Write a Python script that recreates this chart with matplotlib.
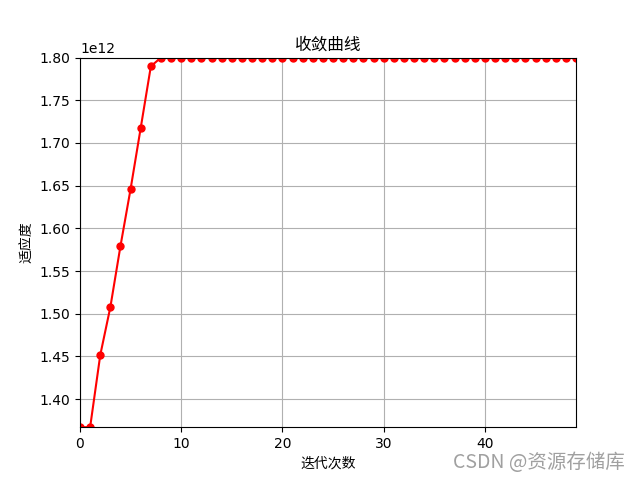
import matplotlib
matplotlib.use("Agg")
import matplotlib.pyplot as plt

plt.rcParams['font.family'] = ['DejaVu Sans', 'Noto Sans CJK SC']

iterations = list(range(50))
fitness = [1.3672e12, 1.3672e12, 1.4516e12, 1.5079e12, 1.5795e12, 1.6463e12,
           1.7178e12, 1.7898e12] + [1.8000e12] * 42

title_text = "收敛曲线"
xlabel_text = "迭代次数"
ylabel_text = "适应度"
watermark = "CSDN @资源存储库"

fig, ax = plt.subplots(figsize=(6.4, 4.8), dpi=100)
ax.plot(iterations, fitness, color='red', marker='o', markersize=5, linewidth=1.5)
ax.set_xlim(0, len(iterations) - 1)
ax.set_ylim(min(fitness), max(fitness))
ax.grid(True)
ax.set_title(title_text, family=['Noto Sans CJK SC', 'DejaVu Sans'])
ax.set_xlabel(xlabel_text, family=['Noto Sans CJK SC', 'DejaVu Sans'])
ax.set_ylabel(ylabel_text, family=['Noto Sans CJK SC', 'DejaVu Sans'])
fig.text(0.977, 0.037, watermark, ha='right', va='center', fontsize=14,
         color='#a0a0a0', family=['Noto Sans CJK SC', 'DejaVu Sans'])
fig.savefig("out.png", dpi=100)
